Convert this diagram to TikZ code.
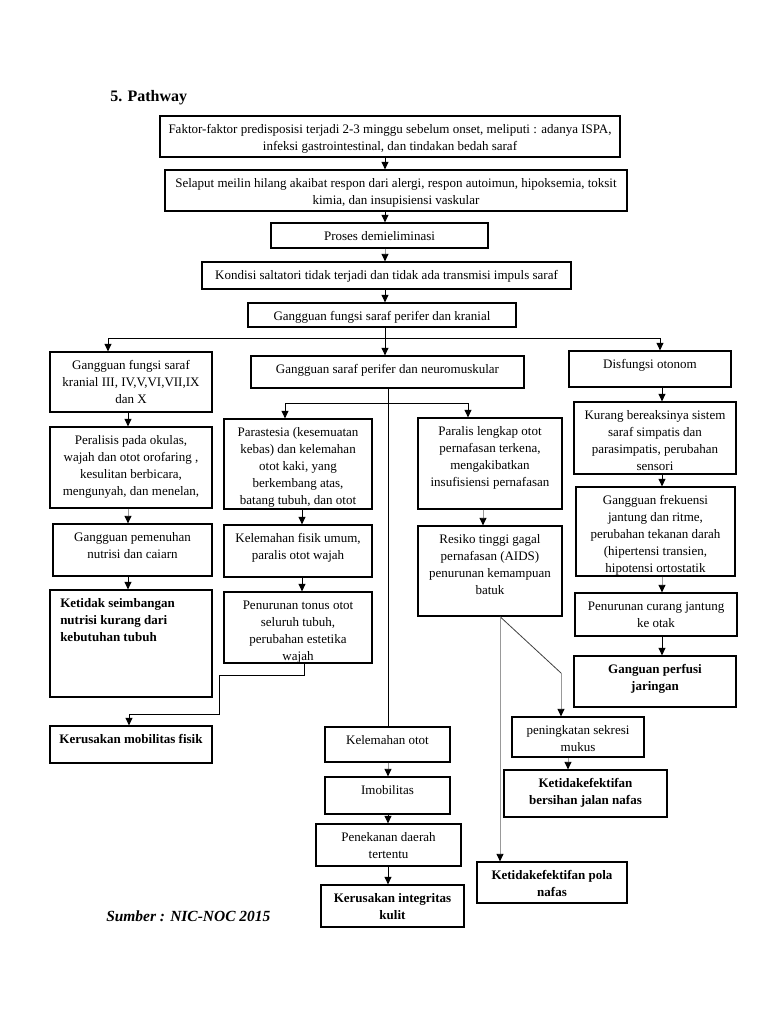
\documentclass[tikz,border=0pt]{standalone}
\usepackage{fontspec}
\setmainfont{Liberation Serif}
\usetikzlibrary{arrows.meta,fit}
\tikzset{
 box/.style={draw, line width=0.95pt, inner sep=0pt, rectangle},
 txt/.style={anchor=north, inner sep=0pt, yshift=-6.2pt, align=center, font=\fontsize{9.75}{12.75}\selectfont},
 bold/.style={font=\fontsize{9.75}{12.75}\selectfont\bfseries},
 ln/.style={line width=0.75pt},
 gln/.style={line width=0.6pt, draw=black!40},
 dln/.style={line width=0.6pt, draw=black!75},
 arr/.style={ln, -{Triangle[width=5.2pt,length=5.6pt]}},
 garr/.style={gln, -{Triangle[width=5.2pt,length=5.6pt,color=black]}},
}
\newcommand\bx[7][]{%
  \node[box, fit={(#3,#4) (#5,#6)}] (#2) {};
  \node[txt,#1] (#2t) at ({(#3+#5)/2},#4) {#7};
}
\begin{document}
\begin{tikzpicture}[x=0.75pt,y=-0.75pt]
\useasboundingbox[fill=white] (0,0) rectangle (768,1024);

\node[anchor=base west, inner sep=0pt, font=\fontsize{12}{14}\selectfont\bfseries] (title) at (110,102) {5. Pathway};
\node[anchor=base west, inner sep=0pt, font=\fontsize{11.6}{14}\selectfont\bfseries\itshape] (src) at (106,921) {Sumber : NIC-NOC 2015};

% top chain
\bx{b1}{160}{116}{620}{157}{Faktor-faktor predisposisi terjadi 2-3 minggu sebelum onset, meliputi : adanya ISPA,\\ infeksi gastrointestinal, dan tindakan bedah saraf}
\bx{b2}{165}{170}{627}{211}{Selaput meilin hilang akaibat respon dari alergi, respon autoimun, hipoksemia, toksit\\ kimia, dan insupisiensi vaskular}
\bx{b3}{271}{223}{488}{248}{Proses demieliminasi}
\bx{b4}{202}{262}{571}{289}{Kondisi saltatori tidak terjadi dan tidak ada transmisi impuls saraf}
\bx{b5}{248}{303}{516}{327}{Gangguan fungsi saraf perifer dan kranial}

% left column
\bx{L1}{50}{352}{212}{412}{Gangguan fungsi saraf\\ kranial III, IV,V,VI,VII,IX\\ dan X}
\bx{L2}{50}{427}{212}{508}{Peralisis pada okulas,\\ wajah dan otot orofaring ,\\ kesulitan berbicara,\\ mengunyah, dan menelan,}
\bx{L3}{53}{524}{212}{576}{Gangguan pemenuhan\\ nutrisi dan caiarn}
\node[box, fit={(50,590) (212,697)}] (L4) {};
\node[txt, bold, anchor=north west, align=left] (L4t) at (60,590) {Ketidak seimbangan\\ nutrisi kurang dari\\ kebutuhan tubuh};
\bx[bold]{L5}{50}{726}{212}{763}{Kerusakan mobilitas fisik}

% middle column
\bx{M1}{251}{356}{524}{388}{Gangguan saraf perifer dan neuromuskular}
\bx{M2}{224}{419}{372}{509}{Parastesia (kesemuatan\\ kebas) dan kelemahan\\ otot kaki, yang\\ berkembang atas,\\ batang tubuh, dan otot}
\bx{M3}{224}{525}{372}{577}{Kelemahan fisik umum,\\ paralis otot wajah}
\bx{M4}{224}{592}{372}{663}{Penurunan tonus otot\\ seluruh tubuh,\\ perubahan estetika\\ wajah}
\bx{P1}{418}{418}{562}{509}{Paralis lengkap otot\\ pernafasan terkena,\\ mengakibatkan\\ insufisiensi pernafasan}
\bx{P2}{418}{526}{562}{616}{Resiko tinggi gagal\\ pernafasan (AIDS)\\ penurunan kemampuan\\ batuk}

\bx{K1}{325}{727}{450}{762}{Kelemahan otot}
\bx{K2}{325}{777}{450}{814}{Imobilitas}
\bx{K3}{316}{824}{461}{866}{Penekanan daerah\\ tertentu}
\bx[bold]{K4}{321}{885}{464}{927}{Kerusakan integritas\\ kulit}

\bx{S1}{512}{717}{644}{757}{peningkatan sekresi\\ mukus}
\bx[bold]{S2}{504}{770}{667}{817}{Ketidakefektifan\\ bersihan jalan nafas}
\bx[bold]{S3}{477}{862}{627}{903}{Ketidakefektifan pola\\ nafas}

% right column
\bx{R1}{569}{351}{731}{387}{Disfungsi otonom}
\bx{R2}{574}{402}{736}{474}{Kurang bereaksinya sistem\\ saraf simpatis dan\\ parasimpatis, perubahan\\ sensori}
\bx{R3}{576}{487}{735}{576}{Gangguan frekuensi\\ jantung dan ritme,\\ perubahan tekanan darah\\ (hipertensi transien,\\ hipotensi ortostatik}
\bx{R4}{575}{593}{737}{636}{Penurunan curang jantung\\ ke otak}
\bx[bold]{R5}{574}{656}{736}{707}{Ganguan perfusi\\ jaringan}

% coordinates
\coordinate (xT) at (385,0);
\coordinate (hL) at (108,338);
\coordinate (hR) at (660,338);
\coordinate (j1) at (385,338);
\coordinate (xL) at (128,0);
\coordinate (xM) at (388,0);
\coordinate (h2L) at (285,403);
\coordinate (h2R) at (468,403);
\coordinate (xM2) at (302,0);
\coordinate (xP) at (483,0);
\coordinate (xR) at (662,0);
\coordinate (p1) at (304,675);
\coordinate (p2) at (219,714);
\coordinate (p3) at (129,714);
\coordinate (q0) at (500,0);
\coordinate (q1) at (561,673);
\coordinate (xS) at (568,0);

% top chain arrows
\draw[arr] (b1.south -| xT) -- (b2.north -| xT);
\draw[arr] (b2.south -| xT) -- (b3.north -| xT);
\draw[garr] (b3.south -| xT) -- (b4.north -| xT);
\draw[arr] (b4.south -| xT) -- (b5.north -| xT);
\draw[ln] (b5.south -| xT) -- (j1);
\draw[ln] (hL) -- (hR);
\draw[arr] (hL) -- (L1.north -| hL);
\draw[arr] (j1) -- (M1.north -| j1);
\draw[arr] (hR) -- (R1.north -| hR);

% left column
\draw[arr] (L1.south -| xL) -- (L2.north -| xL);
\draw[garr] (L2.south -| xL) -- (L3.north -| xL);
\draw[arr] (L3.south -| xL) -- (L4.north -| xL);

% middle column
\draw[ln] (M1.south -| xM) -- (K1.north -| xM);
\draw[ln] (h2L) -- (h2R);
\draw[arr] (h2L) -- (M2.north -| h2L);
\draw[arr] (h2R) -- (P1.north -| h2R);
\draw[arr] (M2.south -| xM2) -- (M3.north -| xM2);
\draw[arr] (M3.south -| xM2) -- (M4.north -| xM2);
\draw[arr] (M4.south -| p1) -- (p1) -| (p2) -- (p3) -- (L5.north -| p3);
\draw[garr] (P1.south -| xP) -- (P2.north -| xP);
\draw[dln] (P2.south -| q0) -- (q1);
\draw[garr] (q1) -- (S1.north -| q1);
\draw[garr] (P2.south -| q0) -- (S3.north -| q0);
\draw[garr] (S1.south -| xS) -- (S2.north -| xS);
\draw[garr] (K1.south -| xM) -- (K2.north -| xM);
\draw[arr] (K2.south -| xM) -- (K3.north -| xM);
\draw[arr] (K3.south -| xM) -- (K4.north -| xM);

% right column
\draw[arr] (R1.south -| xR) -- (R2.north -| xR);
\draw[arr] (R2.south -| xR) -- (R3.north -| xR);
\draw[garr] (R3.south -| xR) -- (R4.north -| xR);
\draw[arr] (R4.south -| xR) -- (R5.north -| xR);
\end{tikzpicture}
\end{document}
